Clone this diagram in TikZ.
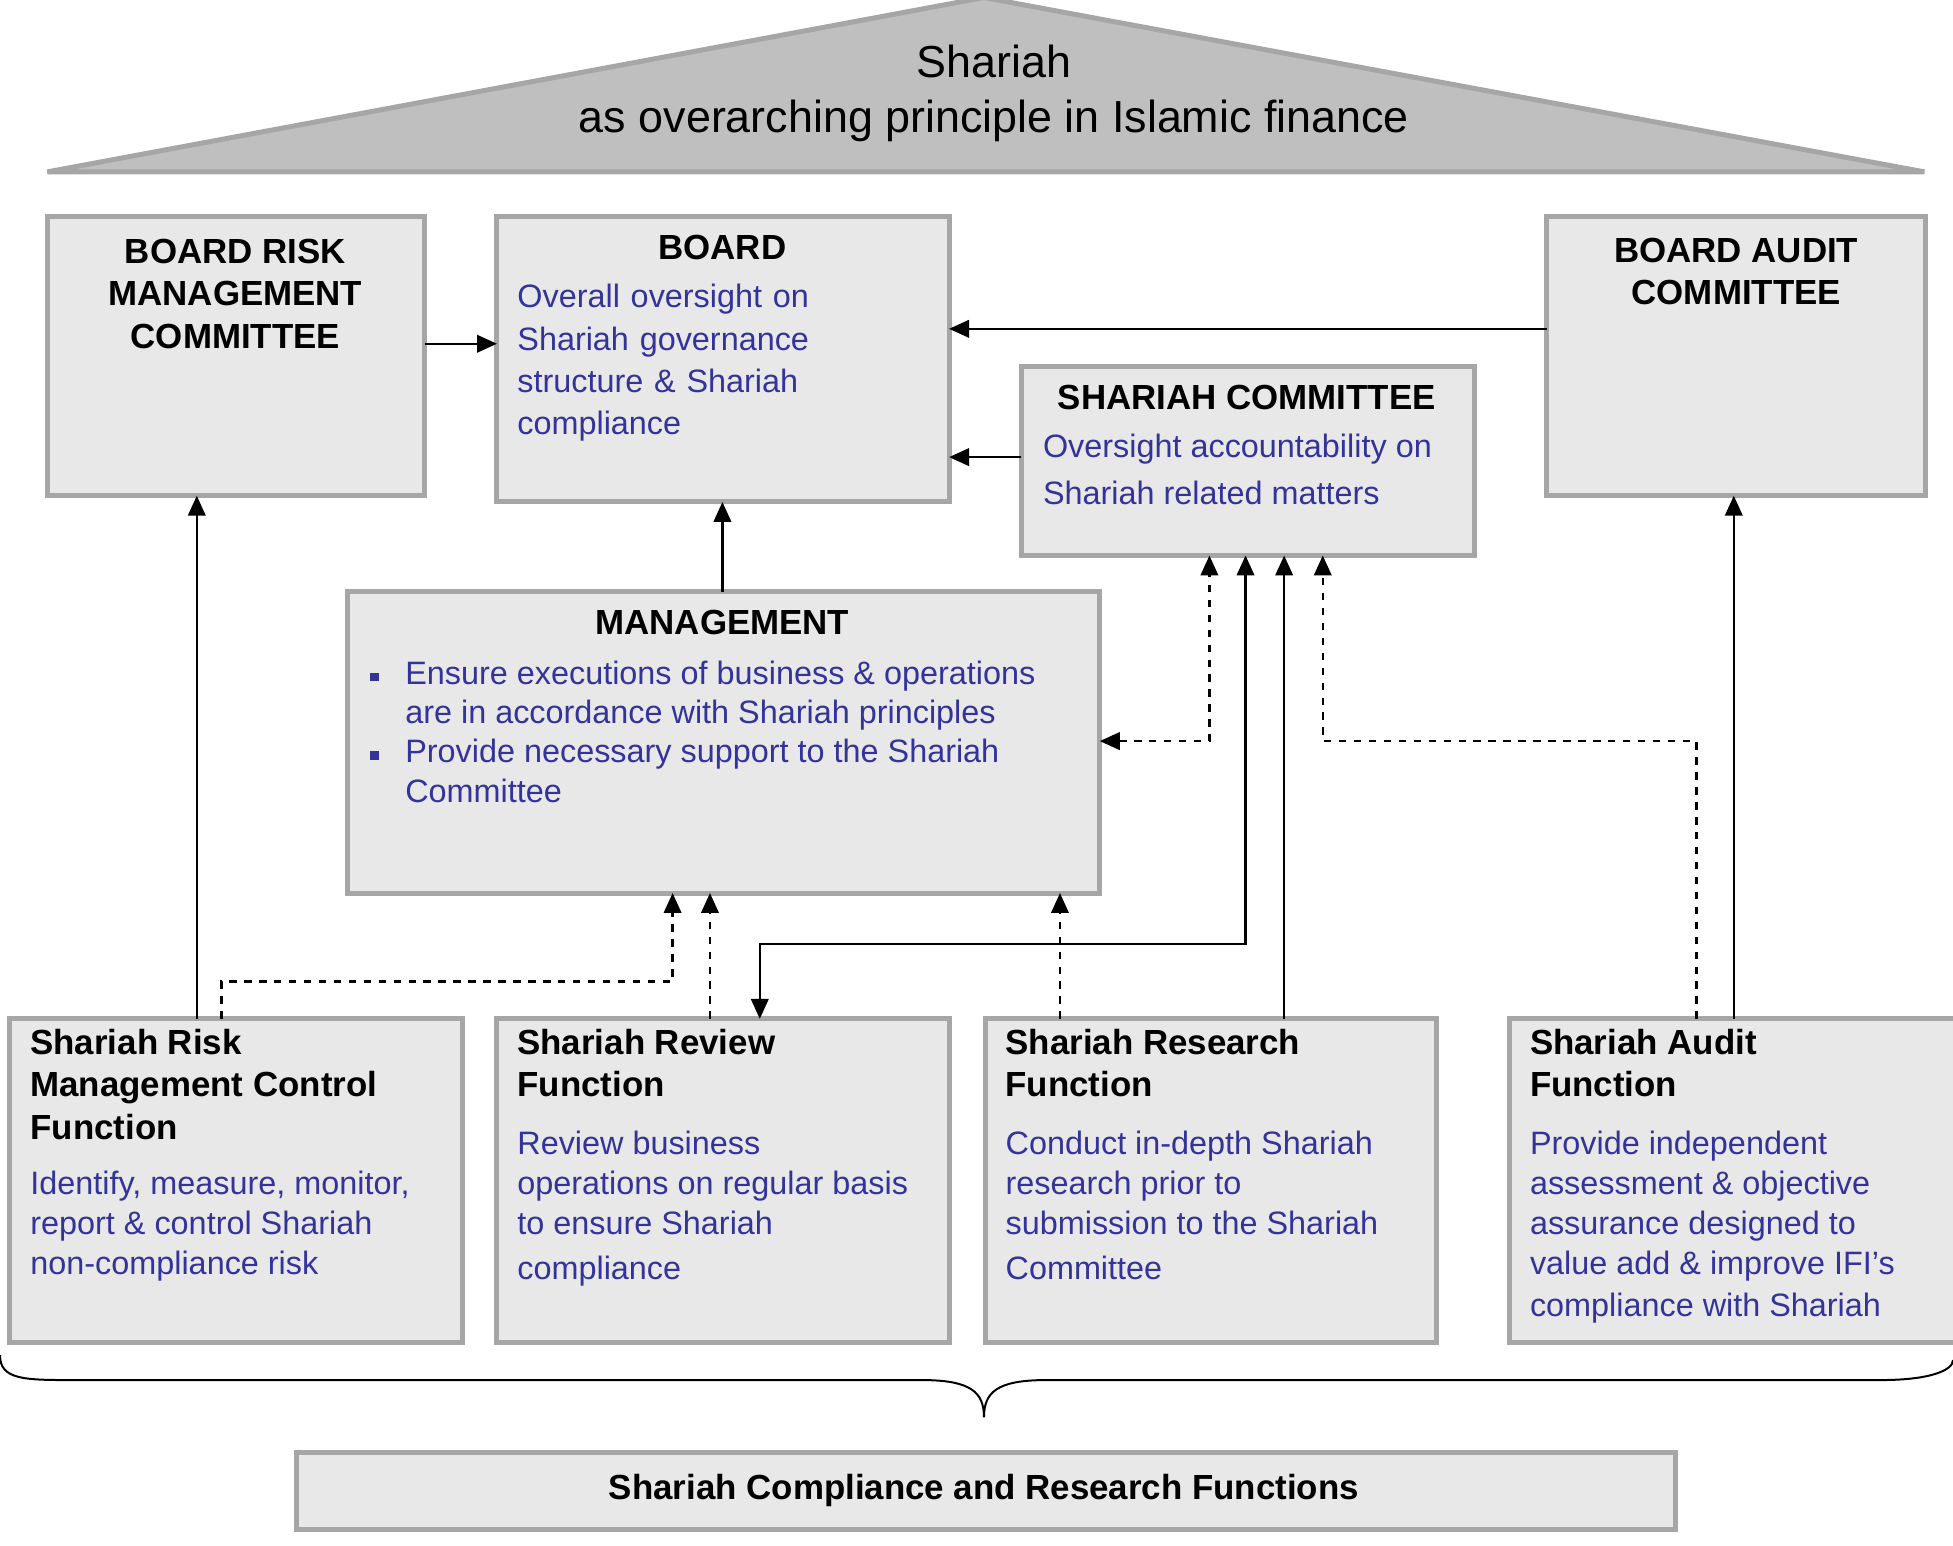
\documentclass[tikz,border=0pt]{standalone}
\usepackage{fontspec}
\setmainfont{Liberation Sans}
\usetikzlibrary{arrows.meta}
\definecolor{boxfill}{HTML}{E8E8E8}
\definecolor{boxline}{HTML}{A6A6A6}
\definecolor{txtblue}{HTML}{33339A}
\definecolor{roof}{HTML}{BFBFBF}
\begin{document}
\begin{tikzpicture}[x=0.5pt,y=-0.5pt,
  box/.style={draw=boxline,fill=boxfill,line width=2pt},
  ttl/.style={font=\fontsize{14}{17}\selectfont\bfseries,align=center,inner sep=0},
  tl/.style={font=\fontsize{14}{17}\selectfont\bfseries,align=left,anchor=north west,inner sep=0},
  bd/.style={font=\fontsize{13}{16}\selectfont,text=txtblue,align=left,anchor=north west,inner sep=0},
  ar/.style={-{Triangle[length=8pt,width=7pt]},line width=1pt},
  dar/.style={ar,dashed}]
\useasboundingbox (0,0) rectangle (1568,1241);
% roof
\fill[roof,draw=boxline,line width=2pt] (38,138) -- (790,-2) -- (1545,138) -- cycle;
\node[font=\fontsize{18}{22}\selectfont,align=center] (roofT) at (798,75) {Shariah\\as overarching principle in Islamic finance};
% boxes
\draw[box] (38,174) rectangle (341,398) node[pos=0,coordinate] (brmcNW) {};
\coordinate (brmc) at (189,286);
\node[ttl] (brmcT) at (189,236) {BOARD RISK\\MANAGEMENT\\COMMITTEE};
\draw[box] (399,174) rectangle (762,403);
\node[ttl] (boardT) at (580,199) {BOARD};
\node[bd,text width=320pt] (boardB) at (415,228) {Overall oversight on\\[1pt]Shariah governance\\[1pt]structure \& Shariah\\[1pt]compliance};
\draw[box] (1242,174) rectangle (1546,398);
\node[ttl] (bacT) at (1394,218) {BOARD AUDIT\\COMMITTEE};
\draw[box] (820,294) rectangle (1184,446);
\node[ttl] (scT) at (1001,319) {SHARIAH COMMITTEE};
\node[bd] (scB) at (837,348) {Oversight accountability on\\[3pt]Shariah related matters};
\draw[box] (279,475) rectangle (883,717);
\node[ttl] (mgT) at (580,500) {MANAGEMENT};
\node[bd] (mgB1) at (325,530) {Ensure executions of business \& operations\\are in accordance with Shariah principles};
\node[bd] (mgB2) at (325,593) {Provide necessary support to the Shariah\\Committee};
\fill[txtblue] (297,540) rectangle (304,547);
\fill[txtblue] (297,603) rectangle (304,610);
\draw[box] (8,818) rectangle (371,1078);
\node[tl] (f1T) at (24,826) {Shariah Risk\\Management Control\\Function};
\node[bd] (f1B) at (24,940) {Identify, measure, monitor,\\report \& control Shariah\\non-compliance risk};
\draw[box] (399,818) rectangle (762,1078);
\node[tl] (f2T) at (415,826) {Shariah Review\\Function};
\node[bd] (f2B) at (415,908) {Review business\\operations on regular basis\\to ensure Shariah\\[2pt]compliance};
\draw[box] (791,818) rectangle (1153,1078);
\node[tl] (f3T) at (807,826) {Shariah Research\\Function};
\node[bd] (f3B) at (807,908) {Conduct in-depth Shariah\\research prior to\\submission to the Shariah\\[2pt]Committee};
\draw[box] (1212,818) rectangle (1580,1078);
\node[tl] (f4T) at (1228,826) {Shariah Audit\\Function};
\node[bd] (f4B) at (1228,908) {Provide independent\\assessment \& objective\\assurance designed to\\value add \& improve IFI’s\\[1pt]compliance with Shariah};
% brace
\draw[line width=0.8pt] (0,1088) .. controls (0,1108) and (20,1108) .. (60,1108) -- (740,1108) .. controls (780,1108) and (790,1118) .. (790,1138)
  .. controls (790,1118) and (800,1108) .. (840,1108) -- (1510,1108) .. controls (1550,1108) and (1568,1100) .. (1568,1092);
\draw[box] (238,1166) rectangle (1345,1228);
\node[ttl] (botT) at (790,1197) {Shariah Compliance and Research Functions};
% arrows
\draw[ar] (341,276) -- (399,276);
\draw[ar] (1242,264) -- (762,264);
\draw[ar] (820,367) -- (762,367);
\draw[ar] (580,475) -- (580,403);
\draw[ar] (158,818) -- (158,398);
\draw[ar] (1392,818) -- (1392,398);
\draw[ar] (1031,818) -- (1031,446);
\draw[{Triangle[length=8pt,width=7pt]}-{Triangle[length=8pt,width=7pt]},line width=1pt] (1000,446) -- (1000,758) -- (610,758) -- (610,818);
\draw[dar,{Triangle[length=8pt,width=7pt]}-{Triangle[length=8pt,width=7pt]}] (883,595) -- (971,595) -- (971,446);
\draw[dar] (1362,818) -- (1362,595) -- (1062,595) -- (1062,446);
\draw[dar] (178,818) -- (178,788) -- (540,788) -- (540,717);
\draw[dar] (570,818) -- (570,717);
\draw[dar] (851,818) -- (851,717);
\end{tikzpicture}
\end{document}
